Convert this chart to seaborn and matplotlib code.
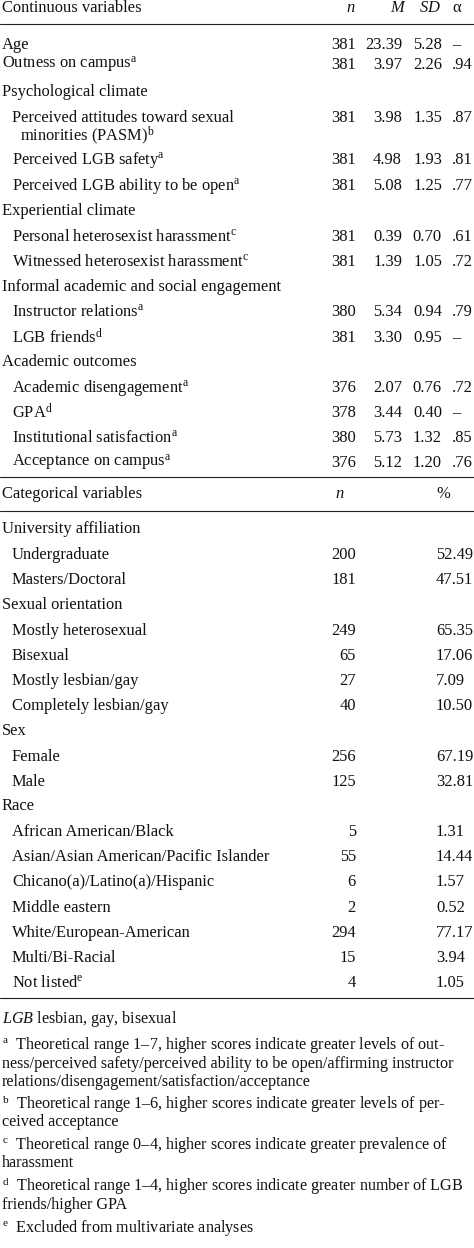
import matplotlib
matplotlib.use("Agg")
import matplotlib.pyplot as plt
import seaborn as sns

sns.set_theme(style="white")
plt.rcParams['font.family'] = ['Liberation Serif', 'DejaVu Serif']
plt.rcParams['mathtext.fontset'] = 'custom'
plt.rcParams['mathtext.rm'] = 'Liberation Serif'
plt.rcParams['mathtext.it'] = 'Liberation Serif:italic'

# ---- data ----
cont_labels = ["Age", "Outness on campus$^{\\mathrm{a}}$", "Psychological climate",
               "Perceived attitudes toward sexual|minorities (PASM)$^{\\mathrm{b}}$",
               "Perceived LGB safety$^{\\mathrm{a}}$", "Perceived LGB ability to be open$^{\\mathrm{a}}$",
               "Experiential climate", "Personal heterosexist harassment$^{\\mathrm{c}}$",
               "Witnessed heterosexist harassment$^{\\mathrm{c}}$",
               "Informal academic and social engagement", "Instructor relations$^{\\mathrm{a}}$",
               "LGB friends$^{\\mathrm{d}}$", "Academic outcomes", "Academic disengagement$^{\\mathrm{a}}$",
               "GPA$^{\\mathrm{d}}$", "Institutional satisfaction$^{\\mathrm{a}}$", "Acceptance on campus$^{\\mathrm{a}}$"]
cont_indent = [0, 0, 0, 1, 1, 1, 0, 1, 1, 0, 1, 1, 0, 1, 1, 1, 1]
cont_n = ["381", "381", "", "381", "381", "381", "", "381", "381", "", "380", "381", "", "376", "378", "380", "376"]
cont_M = ["23.39", "3.97", "", "3.98", "4.98", "5.08", "", "0.39", "1.39", "", "5.34", "3.30", "", "2.07", "3.44", "5.73", "5.12"]
cont_SD = ["5.28", "2.26", "", "1.35", "1.93", "1.25", "", "0.70", "1.05", "", "0.94", "0.95", "", "0.76", "0.40", "1.32", "1.20"]
cont_alpha = ["–", ".94", "", ".87", ".81", ".77", "", ".61", ".72", "", ".79", "–", "", ".72", "–", ".85", ".76"]
cont_y = [45, 65, 92, 118, 160, 186, 211, 237, 262, 287, 312, 338, 362, 388, 413, 438, 463]

cat_labels = ["University affiliation", "Undergraduate", "Masters/Doctoral", "Sexual orientation",
              "Mostly heterosexual", "Bisexual", "Mostly lesbian/gay", "Completely lesbian/gay",
              "Sex", "Female", "Male", "Race", "African American/Black",
              "Asian/Asian American/Pacific Islander", "Chicano(a)/Latino(a)/Hispanic",
              "Middle eastern", "White/European-American", "Multi/Bi-Racial", "Not listed$^{\\mathrm{e}}$"]
cat_indent = [0, 1, 1, 0, 1, 1, 1, 1, 0, 1, 1, 0, 1, 1, 1, 1, 1, 1, 1]
cat_n = ["", "200", "181", "", "249", "65", "27", "40", "", "256", "125", "", "5", "55", "6", "2", "294", "15", "4"]
cat_pct = ["", "52.49", "47.51", "", "65.35", "17.06", "7.09", "10.50", "", "67.19", "32.81", "",
           "1.31", "14.44", "1.57", "0.52", "77.17", "3.94", "1.05"]
cat_y = [529, 555, 580, 605, 631, 656, 681, 706, 731, 757, 782, 806, 832, 857, 882, 908, 933, 958, 983]

notes = [
    (1019, "$\\mathit{LGB}$ lesbian, gay, bisexual"),
    (1045, "$^{\\mathrm{a}}$  Theoretical range 1–7, higher scores indicate greater levels of out-"),
    (1064, "ness/perceived safety/perceived ability to be open/affirming instructor"),
    (1082, "relations/disengagement/satisfaction/acceptance"),
    (1104, "$^{\\mathrm{b}}$  Theoretical range 1–6, higher scores indicate greater levels of per-"),
    (1122, "ceived acceptance"),
    (1145, "$^{\\mathrm{c}}$  Theoretical range 0–4, higher scores indicate greater prevalence of"),
    (1163, "harassment"),
    (1186, "$^{\\mathrm{d}}$  Theoretical range 1–4, higher scores indicate greater number of LGB"),
    (1205, "friends/higher GPA"),
    (1228, "$^{\\mathrm{e}}$  Excluded from multivariate analyses"),
]

W, H = 474, 1248
fig = plt.figure(figsize=(W / 100, H / 100), dpi=100)
ax = fig.add_axes([0, 0, 1, 1])
ax.set_xlim(0, W)
ax.set_ylim(H, 0)
ax.axis("off")
fs = 11.9
kw = dict(fontsize=fs, va="center", color="#111111")

ax.text(2, 8, "Continuous variables", ha="left", **kw)
ax.text(351, 8, "$\\mathit{n}$", ha="center", **kw)
ax.text(398, 8, "$\\mathit{M}$", ha="center", **kw)
ax.text(430, 8, "$\\mathit{SD}$", ha="center", **kw)
ax.text(457, 8, "α", ha="center", **kw)
for yy in (24, 477, 511, 998):
    ax.plot([0, W], [yy, yy], color="#222222", lw=0.8)

for lab, ind, n, m, sd, a, y in zip(cont_labels, cont_indent, cont_n, cont_M, cont_SD, cont_alpha, cont_y):
    parts = lab.split("|")
    ax.text(2 + 10 * ind, y, parts[0], ha="left", **kw)
    if len(parts) > 1:
        ax.text(20, y + 18, parts[1], ha="left", **kw)
    ax.text(356, y, n, ha="right", **kw)
    ax.text(402, y, m, ha="right", **kw)
    ax.text(442, y, sd, ha="right", **kw)
    ax.text(452, y, a, ha="left", **kw)

ax.text(2, 494, "Categorical variables", ha="left", **kw)
ax.text(340, 494, "$\\mathit{n}$", ha="center", **kw)
ax.text(443, 494, "%", ha="center", **kw)
for lab, ind, n, p, y in zip(cat_labels, cat_indent, cat_n, cat_pct, cat_y):
    ax.text(2 + 10 * ind, y, lab, ha="left", **kw)
    ax.text(356, y, n, ha="right", **kw)
    ax.text(436, y, p, ha="left", **kw)

for y, t in notes:
    ax.text(2, y, t, ha="left", fontsize=11.6, va="center", color="#111111")

fig.savefig("out.png", dpi=100)
